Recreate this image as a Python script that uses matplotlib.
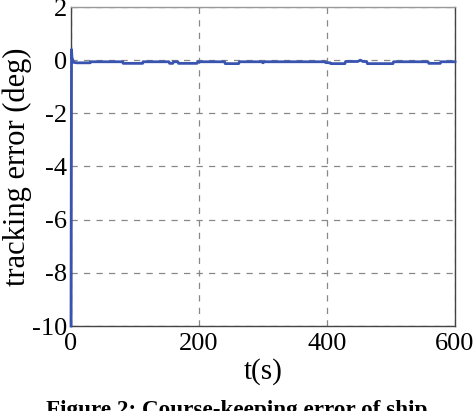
import matplotlib
matplotlib.use("Agg")
import matplotlib.pyplot as plt

# Data
t = [0, 0.8, 1.5, 4, 9, 30, 30.5, 81, 81.5, 112, 112.5, 153, 154, 159, 160, 167, 168, 197, 198,
     240, 241, 262, 263, 298, 300, 302, 396, 398, 405, 406, 428, 429, 448, 452, 456, 462, 463,
     503, 504, 558, 559, 577, 578, 600]
err = [-10, 0.4, 0.1, -0.08, -0.1, -0.1, -0.06, -0.06, -0.12, -0.12, -0.06, -0.06, -0.12, -0.12,
       -0.06, -0.06, -0.12, -0.12, -0.06,
       -0.06, -0.13, -0.13, -0.06, -0.06, -0.1, -0.06, -0.06, -0.09, -0.1, -0.13, -0.13, -0.05,
       -0.05, 0.0, -0.05, -0.05, -0.13,
       -0.13, -0.06, -0.06, -0.12, -0.12, -0.06, -0.06]

xticks = [0, 200, 400, 600]
yticks = [2, 0, -2, -4, -6, -8, -10]

plt.rcParams['font.family'] = ['Liberation Serif', 'DejaVu Serif']

fig = plt.figure(figsize=(4.74, 4.11), dpi=100)
W, H = 474, 411
left, right, top, bottom = 71, 455, 7, 326
ax = fig.add_axes([left / W, 1 - bottom / H, (right - left) / W, (bottom - top) / H])

ax.plot(t, err, color='#3953b0', lw=2.0, zorder=3, clip_on=False)
ax.set_xlim(0, 600)
ax.set_ylim(-10, 2)
ax.set_xticks(xticks)
ax.set_yticks(yticks)
ax.set_xticklabels([str(v) for v in xticks], fontsize=19)
ax.set_yticklabels([str(v) for v in yticks], fontsize=19)
ax.tick_params(axis='x', length=0, pad=5)
ax.tick_params(axis='y', length=0, pad=3)
ax.grid(True, color='#888888', ls=(0, (5, 5)), lw=0.9)
for s in ['left', 'bottom', 'right']:
    ax.spines[s].set_color('#444444')
    ax.spines[s].set_linewidth(1.0)
ax.spines['top'].set_color('#999999')
ax.spines['top'].set_linewidth(1.0)

ax.set_xlabel('t(s)', fontsize=21, labelpad=2)
ax.set_ylabel('tracking error (deg)', fontsize=22, labelpad=0)

fig.text(0.5, 1 - 400 / H, 'Figure 2: Course-keeping error of ship', ha='center', va='top',
         fontsize=16.7, fontweight='bold')

fig.savefig('out.png', dpi=100)
